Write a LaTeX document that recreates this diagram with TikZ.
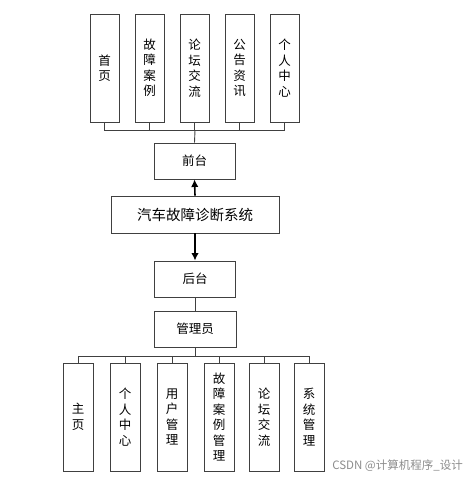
\documentclass[tikz,border=0pt]{standalone}
\usepackage{fontspec}
\usetikzlibrary{arrows.meta}
\newfontfamily\cjk{Noto Sans CJK SC}
\begin{document}
\begin{tikzpicture}[x=1pt,y=-1pt,
    box/.style={draw=black!75,line width=0.9pt,inner sep=0pt,align=center,
        font=\cjk\fontsize{12.5}{15.5}\selectfont},
    tallbox/.style={box,minimum width=29pt,minimum height=108pt},
    widebox/.style={box,minimum width=81pt,minimum height=36pt},
    link/.style={draw=black!75,line width=0.9pt},
    arrow/.style={-{Latex[length=7.5pt,width=7.5pt]},line width=1.6pt}]
    \useasboundingbox (0,0) rectangle (474,481);
    % top row
    \foreach \x/\t [count=\i] in {104.5/{首\\页},149.5/{故\\障\\案\\例},194.5/{论\\坛\\交\\流},239.5/{公\\告\\资\\讯},284.5/{个\\人\\中\\心}}
        \node[tallbox] (t\i) at (\x,68) {\t};
    \node[widebox] (front) at (194.5,161) {前台};
    \node[box,minimum width=168pt,minimum height=37pt,font=\cjk\fontsize{14.5}{16}\selectfont] (sys) at (195,214.5) {汽车故障诊断系统};
    \node[widebox] (back) at (195,279) {后台};
    \node[widebox,minimum width=82pt] (admin) at (195,329) {管理员};
    % bottom row
    \foreach \x/\t [count=\i] in {78/{主\\页},125/{个\\人\\中\\心},172/{用\\户\\管\\理},219/{故\\障\\案\\例\\管\\理},264/{论\\坛\\交\\流},309/{系\\统\\管\\理}}
        \node[tallbox,minimum width=30pt] (b\i) at (\x,417) {\t};
    \coordinate (tbus) at (195,130);
    \coordinate (bbus) at (195,356.5);
    \draw[link] (t1.south) |- (t5.south |- tbus) -- (t5.south);
    \foreach \i in {2,3,4}
        \draw[link] (t\i.south) -- (t\i.south |- tbus);
    \draw[link] (tbus) -- (front.north);
    \draw[link] (b1.north) |- (b6.north |- bbus) -- (b6.north);
    \foreach \i in {2,3,4,5}
        \draw[link] (b\i.north) -- (b\i.north |- bbus);
    \draw[link] (admin.south) -- (bbus);
    \draw[link] (back.south) -- (admin.north);
    \draw[arrow] (sys.north) -- (front.south);
    \draw[arrow] (sys.south) -- (back.north);
    \node[anchor=east,text=black!45,font=\cjk\fontsize{11.5}{13}\selectfont,inner sep=0pt] (mark) at (463,466) {CSDN @计算机程序\_设计};
\end{tikzpicture}
\end{document}
